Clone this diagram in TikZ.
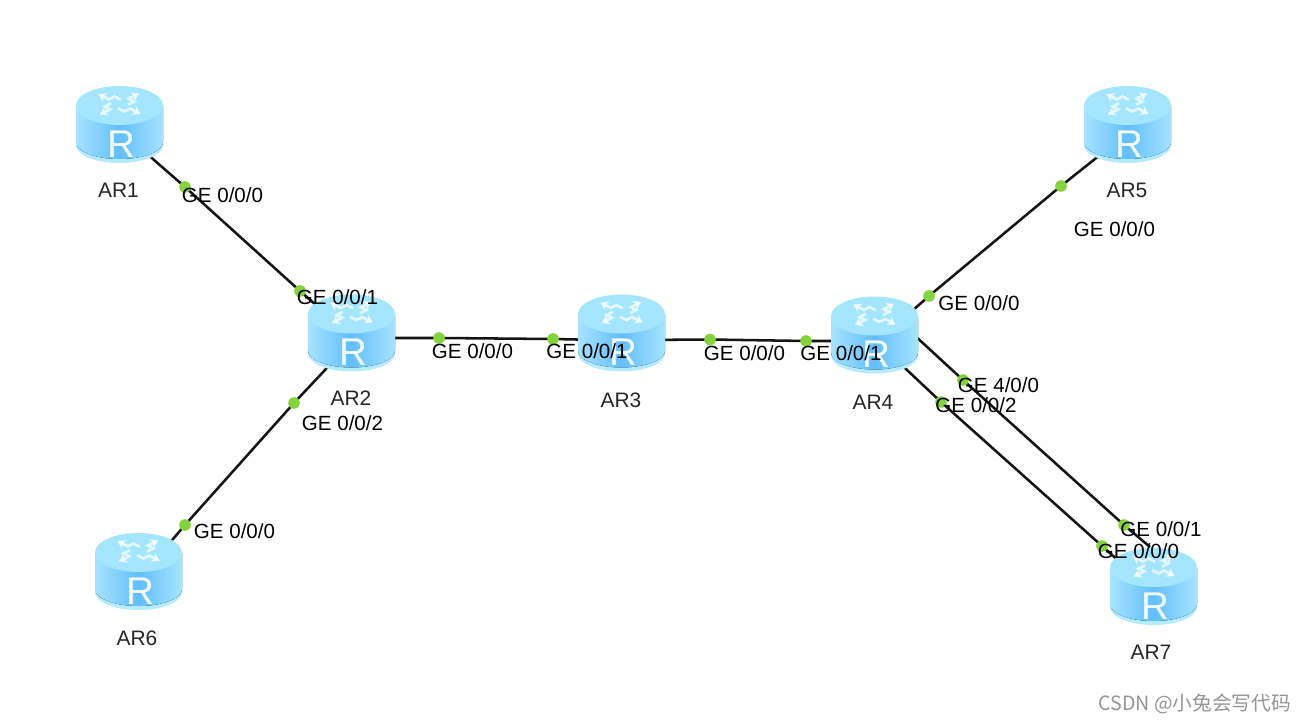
\documentclass[tikz,border=0pt]{standalone}
\usepackage{fontspec}
\setmainfont{Liberation Sans}
\newfontfamily\cjkwm{Noto Sans CJK SC}
\usetikzlibrary{arrows.meta}
\definecolor{rtop}{HTML}{A4E6FF}
\definecolor{rrim}{HTML}{B4ECFF}
\definecolor{rside}{HTML}{A6E4FF}
\definecolor{rmid}{HTML}{62BEFC}
\definecolor{portgreen}{HTML}{82D43A}
\tikzset{
  x=0.75pt,y=-0.75pt,
  link/.style={draw=black!92,line width=1.9pt},
  port/.style={circle,fill=portgreen,draw=none,minimum size=8pt,inner sep=0pt},
  portlabel/.style={font=\fontsize{15.4}{18}\selectfont,text=black,inner sep=0pt},
  devlabel/.style={font=\fontsize{15.7}{18}\selectfont,text=black!85,inner sep=0pt},
  routerbox/.style={rectangle,draw=none,minimum width=65.25pt,minimum height=57.75pt,inner sep=0pt},
  routerR/.style={font=\fontsize{29}{30}\selectfont,text=white,inner sep=0pt,opacity=.92},
  pin/.style={draw=white,opacity=.7,line width=2pt,-{Stealth[length=6pt,width=7.5pt]}},
  wm/.style={font=\cjkwm\fontsize{14.75}{16}\selectfont,text=black!42,inner sep=0pt,anchor=east}
}
\newcommand{\routericon}[3]{%
  \begin{scope}[shift={(#2,#3)}]
    \fill[rrim] (-43.5,-19) -- (-43.5,20) arc[start angle=180,end angle=0,x radius=43.5,y radius=18] -- (43.5,-19) -- cycle;
    \fill[left color=rside,right color=rside,middle color=rmid]
      (-43.5,-19) -- (-43.5,17) arc[start angle=180,end angle=0,x radius=43.5,y radius=17] -- (43.5,-19) -- cycle;
    \fill[rtop] (0,-19.5) ellipse[x radius=43.5,y radius=19.5];
    \begin{scope}[shift={(0,-21)},yscale=.5,rotate=45]
      \foreach \a in {0,90,180,270}{
        \draw[pin,rotate=\a] (5,7) -- (14,7) -- (14,-1) -- (29,-1);
      }
    \end{scope}
    \node[routerR] at (2,19) {R};
    \node[routerbox] (#1) at (0,0) {};
  \end{scope}}
\begin{document}
\begin{tikzpicture}
\useasboundingbox (0,0) rectangle (1305,723);
% hidden ends of the connectors, inside the routers
\coordinate (e1) at (130,139);
\coordinate (e2a) at (325,313);
\coordinate (e2b) at (380,338);
\coordinate (e2c) at (340,354);
\coordinate (e3a) at (600,340);
\coordinate (e3b) at (640,340);
\coordinate (e4a) at (850,341);
\coordinate (e4b) at (895,326);
\coordinate (e4c) at (900,322);
\coordinate (e4d) at (890,354);
\coordinate (e5) at (1115,143);
\coordinate (e6) at (155,560);
\coordinate (e7a) at (1150,547);
\coordinate (e7b) at (1130,571);
% ports
\node[port] (p1) at (185,187) {};
\node[port] (p2) at (300,291) {};
\node[port] (p3) at (439,338) {};
\node[port] (p4) at (553,339) {};
\node[port] (p5) at (710,339.5) {};
\node[port] (p6) at (806,341) {};
\node[port] (p7) at (929,296) {};
\node[port] (p8) at (1061,186) {};
\node[port] (p9) at (963,380) {};
\node[port] (p10) at (1124,525) {};
\node[port] (p11) at (941,402) {};
\node[port] (p12) at (1102,546) {};
\node[port] (p13) at (294,403) {};
\node[port] (p14) at (185,525) {};
% connectors
\draw[link] (e1) -- (p1.center) -- (p2.center) -- (e2a);
\draw[link] (e2b) -- (p3.center) -- (p4.center) -- (e3a);
\draw[link] (e3b) -- (p5.center) -- (p6.center) -- (e4a);
\draw[link] (e4b) -- (p7.center) -- (p8.center) -- (e5);
\draw[link] (e4c) -- (p9.center) -- (p10.center) -- (e7a);
\draw[link] (e4d) -- (p11.center) -- (p12.center) -- (e7b);
\draw[link] (e2c) -- (p13.center) -- (p14.center) -- (e6);
% routers
\routericon{ar1}{119.5}{125}
\routericon{ar2}{351.5}{333.5}
\routericon{ar3}{621.5}{333.5}
\routericon{ar4}{874.5}{335.5}
\routericon{ar5}{1127.5}{125}
\routericon{ar6}{138.5}{572}
\routericon{ar7}{1153.5}{587}
% ports on top of the lines
\foreach \p in {p1,p2,p3,p4,p5,p6,p7,p8,p9,p10,p11,p12,p13,p14}{
  \fill[portgreen] (\p) circle[radius=5.8];
}
% device names
\node[devlabel] (n1) at (118.5,190) {AR1};
\node[devlabel] (n2) at (351,398) {AR2};
\node[devlabel] (n3) at (621,400) {AR3};
\node[devlabel] (n4) at (873,402) {AR4};
\node[devlabel] (n5) at (1127,190) {AR5};
\node[devlabel] (n6) at (137,638) {AR6};
\node[devlabel] (n7) at (1151,652) {AR7};
% port labels
\node[portlabel] (l1) at (222.5,195) {GE 0/0/0};
\node[portlabel] (l2) at (337.5,297) {GE 0/0/1};
\node[portlabel] (l3) at (472.5,351) {GE 0/0/0};
\node[portlabel] (l4) at (587,351) {GE 0/0/1};
\node[portlabel] (l5) at (744.5,353) {GE 0/0/0};
\node[portlabel] (l6) at (841,353) {GE 0/0/1};
\node[portlabel] (l7) at (979,303) {GE 0/0/0};
\node[portlabel] (l8) at (1114.5,229) {GE 0/0/0};
\node[portlabel] (l9) at (998.5,385) {GE 4/0/0};
\node[portlabel] (l10) at (976,405) {GE 0/0/2};
\node[portlabel] (l11) at (1161,529) {GE 0/0/1};
\node[portlabel] (l12) at (1138.5,551) {GE 0/0/0};
\node[portlabel] (l13) at (342.5,423) {GE 0/0/2};
\node[portlabel] (l14) at (234.5,531) {GE 0/0/0};
\node[wm] (wm) at (1291,704) {CSDN @小兔会写代码};
\end{tikzpicture}
\end{document}
